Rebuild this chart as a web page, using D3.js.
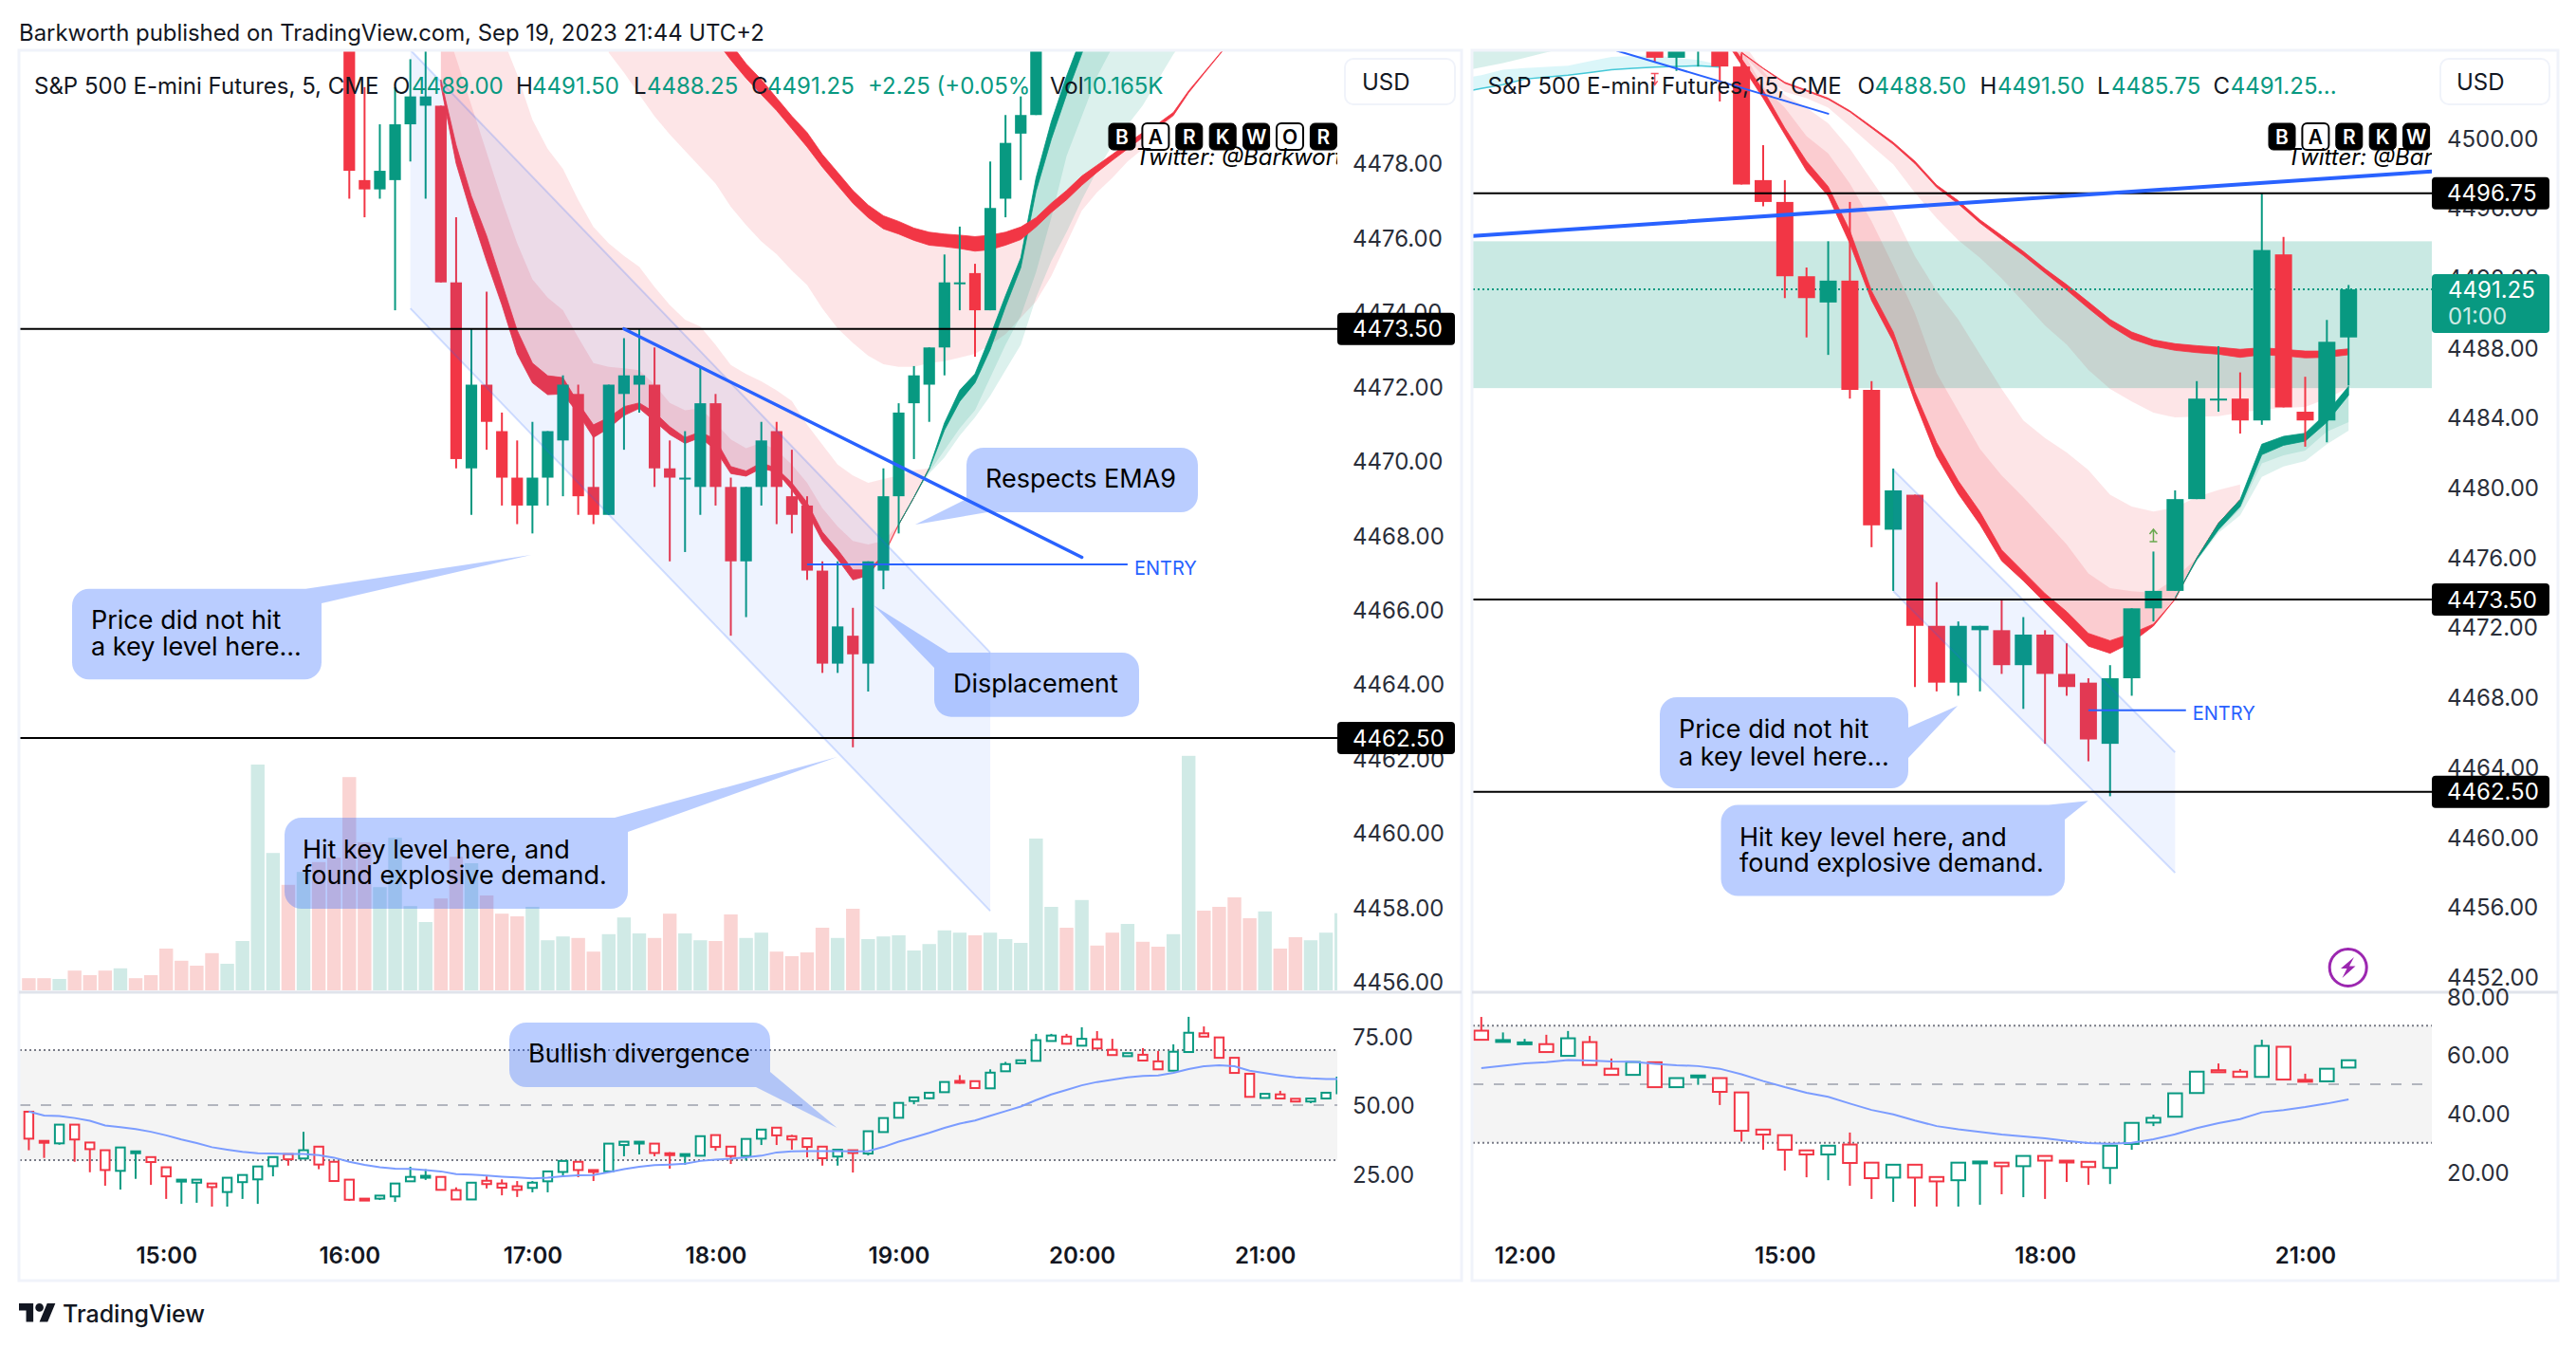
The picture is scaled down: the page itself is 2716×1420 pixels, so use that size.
<!DOCTYPE html>
<html>
<head>
<meta charset="utf-8">
<title>S&amp;P 500 E-mini Futures</title>
<script src="https://d3js.org/d3.v7.min.js"></script>
<style>
  html, body { margin: 0; padding: 0; background: #fff; }
  svg { display: block; }
  text { font-family: Inter, "Noto Sans", sans-serif; }
</style>
</head>
<body>
<script>
// ---- 5 minute chart data ----
var candleStart5 = 21
var candles5 = [
  [4482.5,4483,4477,4477.75],[4477.5,4480,4476.5,4477.25],[4477.25,4479,4477,4477.75],[4477.5,4480,4474,4479],
  [4479,4480.75,4478,4479.75],[4479.5,4481.5,4477,4479.75],[4479.5,4479.5,4474.75,4474.75],[4474.75,4476.5,4469.75,4470],
  [4469.75,4473.5,4468.5,4472],[4472,4474.5,4470.25,4471],[4470.75,4471.25,4468.75,4469.5],[4469.5,4470.5,4468.25,4468.75],
  [4468.75,4471,4468,4469.5],[4469.5,4470.75,4468.75,4470.75],[4470.5,4472.25,4469,4472],[4471.75,4472,4468.5,4469],
  [4469.25,4470.75,4468.25,4468.5],[4468.5,4472,4468.5,4472],[4471.75,4473.25,4470.25,4472.25],[4472,4473.5,4471.25,4472.25],
  [4472,4473,4469.25,4469.75],[4469.75,4470.5,4467.25,4469.5],[4469.5,4470.75,4467.5,4469.5],[4469.25,4472.5,4468.5,4471.5],
  [4471.5,4471.75,4468.75,4469.25],[4469.25,4469.5,4465.25,4467.25],[4467.25,4469.25,4465.75,4469.25],[4469.25,4471,4468.75,4470.5],
  [4470.75,4471,4468.25,4469.25],[4469,4470.25,4468,4468.5],[4468.75,4469,4466.75,4467],[4467,4467.25,4464.25,4464.5],
  [4464.5,4467.25,4464.25,4465.5],[4465.25,4466,4462.25,4464.75],[4464.5,4467.25,4463.75,4467.25],[4467,4469.75,4466.5,4469],
  [4469,4471.5,4468,4471.25],[4471.5,4472.5,4470,4472.25],[4472,4473,4471,4473],[4473,4475.5,4472.25,4474.75],
  [4474.75,4476.25,4474,4474.75],[4475,4475.25,4472.75,4474],[4474,4478,4474,4476.75],[4477,4479.25,4476.5,4478.5],
  [4478.75,4479.75,4477.5,4479.25],[4479.25,4483,4479.25,4482.5]
]
var volume5 = [1.6,1.6,1.5,2.6,2,2.6,2.9,1.6,2,5.5,3.9,3.25,4.9,3.5,6.5,29.75,18.1,13.9,15.6,16.9,17.5,28.1,19.5,13.6,20.1,11.1,9,12.1,17.6,16.75,12.5,10.1,9.75,11,6.6,7.1,6.9,5.1,7.4,9.6,7.5,6.9,10.1,7.5,6.6,6.5,10,6.9,7.6,5.1,4.5,5,8.25,6.9,10.75,6.75,7.1,7.25,5.25,6.1,7.9,7.6,7.25,7.6,6.75,6.25,20,11,8.25,11.9,5.9,7.6,8.75,6.4,5.75,7.4,30.9,10.5,11,12.25,9.5,10.4,5.5,7,6.6,7.6,10.165]
var volumeUp5 = [0,0,1,0,0,0,1,0,0,0,0,0,0,1,1,1,1,0,1,0,0,0,0,1,1,1,1,0,0,1,0,0,0,1,1,1,0,0,1,1,1,0,0,1,1,0,0,1,1,0,0,0,0,1,0,1,1,1,1,1,1,1,0,1,1,1,1,1,0,1,0,0,1,0,0,1,1,0,0,0,0,1,0,0,1,1,1]
var rsi5 = [
  [47.6,47.6,33.6,37.8],[37,37,30.8,36.8],[36.1,42.9,35.6,42.9],[42.9,42.9,29.4,37.5],[36.4,36.4,25.6,34],[33.6,33.6,20.7,26.4],
  [26.1,34.6,19.3,34.6],[32.9,33.2,23.2,33.2],[31.1,31.1,21,29.3],[27.4,27.4,15.9,24.1],[22.2,22.9,14.1,22.9],[21.8,22.9,14.5,22.9],
  [21.5,21.5,13.1,20.2],[18.4,23.6,13.1,23.6],[22,24.6,15.9,24.6],[23,27.7,14.1,27.7],[27.8,31.1,24.1,31.1],[32.2,32.2,28,30.3],
  [30.6,40.3,30.6,33.6],[34.9,34.9,26.7,28.4],[29.4,29.4,22.4,22.4],[22.9,22.9,15.2,15.6],[16,16,15.3,15.3],[16,17.1,15.5,17.1],
  [16.8,21.5,14.8,21.5],[22.3,27.6,22.3,23.9],[23.6,26.7,22.8,24.3],[23.9,23.9,19.2,19.2],[19.1,20.1,15.7,15.7],[15.7,21.8,15.7,21.8],
  [22.5,24.1,19.7,21.3],[21.5,23,17.2,20],[20.5,22.4,16.6,19.2],[19.9,22.4,18.3,21.8],[22.3,25.9,18.3,25.9],[25.7,30,23.9,29.7],
  [29.4,29.4,23.8,26.4],[26.4,26.4,22.4,25.7],[25.9,36,25.9,36],[35.5,36.7,31.4,36.7],[36.1,36.7,32.1,36.7],[36,36,31.4,32.6],
  [32.5,32.9,26.9,32],[31.8,32.2,28.3,32.2],[31.6,38.7,31.6,38.7],[39.1,39.1,33.4,34.8],[34.9,34.9,28.6,31.5],[31.5,37.7,29.9,37.7],
  [37.8,41.1,35.5,41.1],[41.8,41.8,35.5,39],[38.7,39.2,33.8,37.5],[37.9,37.9,31,34.8],[34.9,34.9,28,30.7],[31.3,33.8,28,33.8],
  [33.6,33.6,25.5,32.6],[32.4,40.5,31.7,40.5],[40.2,45.3,40.2,45.3],[45.4,50.8,45.4,50.8],[51.5,52.8,50.3,52.8],[52.5,54.5,52.2,54.5],
  [54.7,58.4,54.7,58.4],[58.8,60.9,57.8,58.3],[58.7,58.7,56.2,56.2],[56.1,63,56.1,61.8],[62.3,65.7,62.3,64.9],[65.2,66.3,65.2,66.3],
  [66.1,75.9,66.1,73.6],[73.3,75.9,73.3,75.3],[74.9,75.9,72.3,72.3],[71.6,78.3,71.6,74.1],[73.9,76.9,70.6,70.6],[70.1,74.1,68.2,68.2],
  [67.8,68.9,67.8,68.9],[68.3,70.7,66.2,66.2],[65.9,69.7,63,63],[62.5,72.1,62.5,69.4],[69.3,82.1,69.3,76.3],[76.1,78.6,74.9,74.9],
  [74.6,74.6,67.2,67.2],[67.2,67.2,61.7,61.7],[61.4,61.4,53,53],[52.6,54.1,52.6,54.1],[53.9,55.2,52.4,52.4],[52.3,52.3,51.3,51.3],
  [51.3,52.4,50.7,52.4],[52.4,54.5,52.4,54.5],[54.3,60,54.3,60]
]
var rsiMa5 = [47.7,46.2,46,45.3,44.3,42.6,42,41.3,40.3,39,37.5,36.2,34.7,33.8,33,32.5,32.4,32.2,32.2,31.8,30.9,29.4,28.3,27.4,26.9,26.8,26.4,25.9,24.9,24.7,24.4,24,23.7,23.4,23.6,24.1,24.5,24.6,25.6,26.7,27.6,28.2,28.4,28.7,29.7,30.2,30.5,31,31.6,32.8,33.2,33.3,33.3,33.3,33.2,33.3,34.8,36.7,38.3,39.9,41.7,43.3,44.4,46.1,47.8,49.5,51.8,53.9,55.5,57.2,58.4,59.2,60.1,60.6,60.8,61.7,63.1,64.1,64.5,64.1,62.5,61.6,60.8,60.1,59.7,59.5,59.5]

// fast ribbon, from bar 27
var fastStart5 = 27
var fastLow5 = [4480.05,4477.95,4476.58,4475.32,4474.14,4472.83,4472.05,4471.73,4471.75,4471.22,4470.58,4470.83,4471.17,4471.36,4471.02,4470.66,4470.42,4470.58,4470.24,4469.61,4469.54,4469.75,4469.65,4469.17,4468.58,4467.8,4467.31,4466.75,4466.87,4467.41,4468.24,4468.97,4469.75]
var fastHigh5 = [4480.2,4478.44,4477.07,4476,4474.73,4473.46,4472.58,4472.24,4472.19,4471.51,4470.92,4471.12,4471.41,4471.51,4471.26,4470.87,4470.58,4470.73,4470.53,4469.8,4469.68,4469.9,4469.75,4469.36,4468.83,4468.04,4467.56,4467.02,4467.02,4467.41,4468.24,4468.97,4469.75]
var fastMid5 = [4482,4480.78,4479.51,4478.24,4476.97,4475.8,4474.83,4474.34,4474,4473.27,4472.58,4472.48,4472.44,4472.39,4472,4471.51,4471.31,4471.36,4470.97,4470.53,4470.29,4470.44,4470.24,4469.85,4469.36,4468.68,4468.19,4467.8,4467.7,4467.8,4468.24,4468.97,4469.75]
var fastOuter5 = [4486,4485,4484,4483,4481.37,4480.34,4479.12,4478.34,4477.8,4476.97,4476.24,4475.8,4475.46,4475.17,4474.63,4474.14,4473.75,4473.56,4473.07,4472.53,4472.29,4472.09,4471.85,4471.56,4470.92,4470.39,4469.85,4469.56,4469.36,4469.46,4469.56,4469.7,4469.75]
// the same ribbon after it flips up, from bar 57
var tealStart5 = 57
var tealHigh5 = [4468.24,4468.97,4469.75,4470.97,4471.85,4472.29,4473.31,4474.39,4475.41,4477.56,4479.07,4480.29,4481.37,4482.5,4483.5,4484.5,4485.5,4486.5,4487.5,4488.5]
var tealLow5 = [4468.24,4468.97,4469.73,4470.78,4471.55,4472.05,4472.95,4474.1,4475.15,4477.2,4478.6,4479.8,4480.9,4482,4483,4484,4485,4486,4487,4488]
var tealMid5 = [4468.24,4468.97,4469.65,4470.24,4470.83,4471.31,4472.19,4473.07,4473.85,4475.02,4476.49,4478.15,4479.22,4480.29,4481.07,4482,4483,4484,4485,4486]
var tealOuter5 = [4468.24,4468.97,4469.61,4470.04,4470.63,4471.12,4471.7,4472.39,4473.07,4474.34,4475.32,4476.1,4476.97,4477.76,4478.44,4478.98,4479.51,4480.2,4480.88,4481.46]
// slow ribbon, from bar 38
var slowStart5 = 38
var slowTop5 = [4485.8,4485.2,4484.6,4484,4483.4,4482.8,4482.2,4481.66,4481.17,4480.63,4480.2,4479.71,4479.22,4478.78,4478.19,4477.71,4477.22,4476.83,4476.54,4476.39,4476.21,4476.1,4476.05,4476.02,4475.98,4476.02,4476.1,4476.24,4476.49,4476.88,4477.22,4477.61,4477.9,4478.19,4478.49,4478.78,4479.02,4479.32,4479.9,4480.39,4480.88,4481.37]
var slowLow5 = [4485.4,4484.8,4484.2,4483.6,4483,4482.4,4481.8,4481.27,4480.73,4480.24,4479.8,4479.37,4478.88,4478.39,4477.85,4477.36,4476.88,4476.49,4476.19,4476.05,4475.88,4475.75,4475.71,4475.66,4475.59,4475.63,4475.75,4475.9,4476.24,4476.63,4476.97,4477.36,4477.71,4478.03,4478.34,4478.65,4478.93,4479.24,4479.85,4480.36,4480.86,4481.35]
var slowOuter5 = [4480.93,4480.39,4479.8,4479.22,4478.73,4478.29,4477.85,4477.41,4476.78,4476.29,4475.85,4475.51,4475.07,4474.68,4474.05,4473.51,4473.12,4472.78,4472.55,4472.48,4472.48,4472.58,4472.63,4472.73,4472.83,4473.07,4473.36,4473.8,4474.24,4474.92,4475.8,4476.68,4477.17,4477.56,4478,4478.34,4478.78,4479.22,4479.85,4480.36,4480.86,4481.35]

// ---- 15 minute chart data ----
var candleStart15 = 8
var candles15 = [
  [4505.5,4506,4504.25,4504.5],[4504.5,4506,4503.75,4505.5],[4505.25,4505.75,4504,4505.5],[4505.5,4506,4502,4504],
  [4504,4504.75,4497.25,4497.25],[4497.5,4499.5,4496,4496.25],[4496.25,4497.5,4490.75,4492],[4492,4492.5,4488.5,4490.75],
  [4490.5,4494,4487.5,4491.75],[4491.75,4496.25,4485,4485.5],[4485.5,4486,4476.5,4477.75],[4477.5,4481,4474,4479.75],
  [4479.5,4479.5,4468.5,4472],[4472,4474.5,4468.25,4468.75],[4468.75,4472.25,4468,4472],[4471.75,4472,4468.25,4472],
  [4471.75,4473.5,4469.25,4469.75],[4469.75,4472.5,4467.25,4471.5],[4471.5,4471.75,4465.25,4469.25],[4469.25,4471,4468,4468.5],
  [4468.75,4469,4464.25,4465.5],[4465.25,4469.75,4462.25,4469],[4469,4473,4468,4473],[4473,4476.25,4472.25,4474],
  [4474,4479.75,4474,4479.25],[4479.25,4486,4479.25,4485],[4485,4488,4484.25,4485],[4485,4486.5,4483,4483.75],
  [4483.75,4496.75,4483.5,4493.5],[4493.25,4494.25,4484.5,4484.5],[4484.25,4486.25,4482.25,4483.75],[4483.75,4489.5,4482.5,4488.25],
  [4488.5,4491.5,4485.75,4491.25]
]
var rsi15 = [
  [68.3,73,65.2,65.2],[64.5,67.7,64.5,65.1],[63.9,65.5,63.9,64.3],[63.7,66.9,61,61],[59.7,68.2,59.7,65.7],[64.4,66.5,56.6,56.6],
  [55.3,58.8,53.2,53.2],[53.2,57.6,53.2,57.6],[57.5,57.5,49,49],[49,52.1,49,52.1],[52.5,53,49.8,53],[52.1,52.1,42.9,47.4],
  [47.2,47.2,30.4,34.1],[34.5,34.5,27.6,32.8],[32.6,32.6,20.5,27.6],[27.4,27.4,18.2,26],[26,29,17.2,29],[29.4,33.5,15.3,23.1],
  [23.2,23.2,10.8,17.9],[18.1,22.5,9.8,22.5],[22.5,22.5,8.2,18.1],[18.3,18.3,8.2,16.8],[17.2,23.2,8.2,23.2],[23,23.6,8.8,23.6],
  [23.2,23.2,12.4,22],[22,25.5,11.4,25.5],[25.5,25.5,10.8,23.9],[23.9,23.9,16.6,23.6],[23.5,23.5,15.6,21.7],[21.4,29,15.9,29],
  [29.6,36.8,27.6,36.8],[36.9,39.6,35.7,38.5],[38.9,46.9,38.9,46.9],[47,54.3,47,54.3],[54.8,57.1,54.1,54.1],[54.3,55.2,52.5,52.5],
  [52.5,65.2,52.5,63.1],[62.8,62.8,51.6,51.6],[51.5,53.6,50.9,50.9],[51,55.3,51,55.3],[55.7,58.2,55.7,58.2]
]
var rsiMa15 = [55.5,56.3,57.1,57.5,58.3,58.1,57.8,57.7,57,56.5,56.2,55.3,53.4,51.1,49,47.1,45.7,43.4,41.2,39.7,37.6,35.7,34.6,33.7,32.8,32.2,31.5,30.6,29.9,29.7,30,31.2,32.9,35,36.7,38.1,40.4,41.2,42.2,43.4,44.8]

var fastStart15 = 11
var fastLow15 = [4506,4504.09,4502.19,4500.11,4498.03,4496.59,4493.87,4490.62,4488.27,4484.83,4481.7,4479.56,4477.8,4475.72,4474.58,4473.33,4472.09,4470.84,4470.43,4471.05,4471.99,4473.52,4475.88,4477.87,4479.22]
var fastHigh15 = [4506.2,4504.45,4502.65,4500.48,4498.58,4497.13,4494.6,4491.16,4488.81,4485.37,4482.48,4480.29,4478.52,4476.34,4475.1,4473.85,4472.81,4471.57,4471.15,4471.57,4472.1,4473.52,4475.88,4477.87,4479.22]
var fastMid15 = [4506.3,4505,4502.83,4501.65,4500.02,4499.03,4497.31,4495.14,4492.61,4489.9,4486.46,4484.29,4482.12,4480.6,4479.36,4478.01,4476.66,4475,4474.16,4473.98,4473.89,4474.7,4475.88,4477.87,4479.22]
var fastOuter15 = [4506.4,4505.5,4503.73,4502.37,4501.65,4500.75,4499.3,4497.49,4495.68,4493.15,4491.16,4489.53,4487.54,4485.55,4483.75,4482.75,4481.92,4480.91,4479.5,4478.82,4478.54,4478.77,4479.37,4479.77,4480.09]
var tealStart15 = 32
var tealHigh15 = [4473.6,4475.88,4477.87,4479.22,4482.39,4482.84,4483.02,4484.2,4485.7]
var tealLow15 = [4473.6,4475.79,4477.5,4478.82,4481.79,4482.33,4482.57,4483.65,4485.19]
var tealMid15 = [4473.6,4475.75,4477.41,4478.68,4481.3,4481.75,4482.03,4483.11,4483.65]
var tealOuter15 = [4473.6,4475.7,4477.32,4478.32,4480.52,4481.12,4481.43,4482.39,4483.17]
var slowStart15 = 12
var slowTop15 = [4504.82,4503.91,4503.1,4502.65,4502.19,4501.47,4500.57,4499.66,4498.58,4497.22,4496.32,4495.23,4494.33,4493.42,4492.43,4491.52,4490.53,4489.53,4488.81,4488.36,4488.14,4488.03,4487.94,4487.82,4487.91,4487.82,4487.72,4487.72,4487.85]
var slowLow15 = [4504.78,4503.88,4503.04,4502.59,4502.12,4501.4,4500.48,4499.55,4498.45,4497.09,4496.14,4495.05,4494.11,4493.19,4492.19,4491.21,4490.17,4489.17,4488.41,4488,4487.76,4487.63,4487.54,4487.36,4487.51,4487.45,4487.33,4487.36,4487.51]
var slowOuter15 = [4504.78,4503.46,4502.56,4502.19,4501.65,4500.57,4499.48,4498.4,4496.77,4495.32,4494.06,4493.06,4491.88,4490.53,4489.17,4488.09,4486.64,4485.55,4484.83,4484.2,4483.92,4483.96,4484,4484.2,4484.38,4484.47,4484.52,4485,4485.64]
// older ema bands at the top left, from bar -1
var cyanStart15 = -1
var cyanTop15 = [4503.3,4503.5,4503.82,4503.91,4503.98,4504.04,4504.3,4504.55,4504.6,4504.64,4504.5,4504.37,4504.1]
var cyanLow15 = [4502.5,4502.75,4502.96,4503.28,4503.4,4503.5,4503.65,4503.82,4503.9,4503.97,4504,4504.04,4503.97]
var oldTealTop15 = [4506,4506,4506,4506,4506,4506]
var oldTealLow15 = [4503.7,4503.95,4504.2,4504.5,4504.8,4505.1]

// ---- axes ----
var priceTicks5 = [4456,4458,4460,4462,4464,4466,4468,4470,4472,4474,4476,4478]
var priceTicks15 = [4452,4456,4460,4464,4468,4472,4476,4480,4484,4488,4492,4496,4500]
var rsiTicks5 = [25,50,75]
var rsiTicks15 = [20,40,60,80]
var timeBars5 = [9,21,33,45,57,69,81]
var timeLabels5 = ['15:00','16:00','17:00','18:00','19:00','20:00','21:00']
var timeBars15 = [2,14,26,38]
var timeLabels15 = ['12:00','15:00','18:00','21:00']

var levels5 = [4473.5,4462.5]
var levels15 = [4496.75,4473.5,4462.5]

var watermark5 = ['B','A','R','K','W','O','R']
var watermark15 = ['B','A','R','K','W']

var UP = '#089981', DOWN = '#f23645', BLUE = '#2962ff', INK = '#131722', AXIS = '#2a2e39'
var CALLOUT = 'rgba(41,98,255,0.32)'

var svg = d3.select('body').append('svg').attr('width', 2716).attr('height', 1420)
var defs = svg.append('defs')

function clip(id, x0, y0, x1, y1) {
  defs.append('clipPath').attr('id', id).append('rect')
    .attr('x', x0).attr('y', y0).attr('width', x1 - x0).attr('height', y1 - y0)
}

function band(g, x, y, start, upper, lower, fill) {
  var n = Math.min(upper.length, lower.length)
  var area = d3.area()
    .x(function (d) { return x(start + d) })
    .y0(function (d) { return y(lower[d]) })
    .y1(function (d) { return y(upper[d]) })
  return g.append('path').attr('d', area(d3.range(n))).attr('fill', fill)
}

function solid(g, x, y, start, upper, lower, color) {
  band(g, x, y, start, upper, lower, color).attr('stroke', color).attr('stroke-width', 0.8)
}

function candles(g, data, start, x, y, w, hollow) {
  data.forEach(function (c, i) {
    var up = c[3] >= c[0]
    var color = up ? UP : DOWN
    var cx = x(start + i)
    var top = y(Math.max(c[0], c[3]))
    var h = Math.max(Math.abs(y(c[0]) - y(c[3])), 2)
    g.append('line').attr('x1', cx).attr('x2', cx).attr('y1', y(c[1])).attr('y2', y(c[2]))
      .attr('stroke', color).attr('stroke-width', 2)
    if (hollow) {
      g.append('rect').attr('x', cx - w / 2 + 1).attr('y', top).attr('width', w - 2).attr('height', h)
        .attr('fill', '#fff').attr('stroke', color).attr('stroke-width', 2)
    } else {
      g.append('rect').attr('x', cx - w / 2).attr('y', top).attr('width', w).attr('height', h).attr('fill', color)
    }
  })
}

function channel(g, x, y, b0, b1, t0, t1, l0, l1) {
  var pts = [[x(b0), y(t0)], [x(b1), y(t1)], [x(b1), y(l1)], [x(b0), y(l0)]]
  g.append('path').attr('d', d3.line()(pts) + 'Z').attr('fill', 'rgba(41,98,255,0.08)')
  g.append('path').attr('d', d3.line()([pts[0], pts[1]])).attr('stroke', 'rgba(41,98,255,0.2)').attr('stroke-width', 2).attr('fill', 'none')
  g.append('path').attr('d', d3.line()([pts[3], pts[2]])).attr('stroke', 'rgba(41,98,255,0.2)').attr('stroke-width', 2).attr('fill', 'none')
}

function trend(g, x, y, b0, p0, b1, p1, w) {
  g.append('line').attr('x1', x(b0)).attr('y1', y(p0)).attr('x2', x(b1)).attr('y2', y(p1))
    .attr('stroke', BLUE).attr('stroke-width', w).attr('stroke-linecap', 'round')
}

// rounded box with a tail, corner = the corner the tail replaces
function callout(box, corner, a, tip, b, lines, tx, ty) {
  var r = 18, x0 = box[0], y0 = box[1], x1 = box[2], y1 = box[3]
  var p = d3.path()
  p.moveTo(x0 + r, y0)
  if (corner === 'tl') { p.moveTo(a[0], a[1]) }
  if (corner === 'tr') { p.lineTo(a[0], a[1]); p.lineTo(tip[0], tip[1]); p.lineTo(b[0], b[1]) }
  else { p.lineTo(x1 - r, y0); p.arcTo(x1, y0, x1, y0 + r, r) }
  if (corner === 'right') { p.lineTo(a[0], a[1]); p.lineTo(tip[0], tip[1]); p.lineTo(b[0], b[1]) }
  if (corner === 'br') { p.lineTo(a[0], a[1]); p.lineTo(tip[0], tip[1]); p.lineTo(b[0], b[1]) }
  else { p.lineTo(x1, y1 - r); p.arcTo(x1, y1, x1 - r, y1, r) }
  if (corner === 'bl') { p.lineTo(a[0], a[1]); p.lineTo(tip[0], tip[1]); p.lineTo(b[0], b[1]) }
  else { p.lineTo(x0 + r, y1); p.arcTo(x0, y1, x0, y1 - r, r) }
  if (corner === 'tl') { p.lineTo(b[0], b[1]); p.lineTo(tip[0], tip[1]); p.closePath() }
  else { p.lineTo(x0, y0 + r); p.arcTo(x0, y0, x0 + r, y0, r); p.closePath() }
  svg.append('path').attr('d', p.toString()).attr('fill', CALLOUT)
  lines.forEach(function (t, i) {
    svg.append('text').attr('x', tx).attr('y', ty[i]).attr('dy', '0.36em')
      .attr('font-size', 27).attr('fill', '#000').text(t)
  })
}

function label(x, y, txt, fill, opts) {
  opts = opts || {}
  return svg.append('text').attr('x', x).attr('y', y).attr('dy', '0.36em')
    .attr('font-size', opts.size || 24).attr('font-weight', opts.weight || 400)
    .attr('font-style', opts.style || 'normal').attr('fill', fill).text(txt)
}

function priceTag(x0, x1, cy, txt) {
  svg.append('rect').attr('x', x0).attr('y', cy - 17).attr('width', x1 - x0).attr('height', 34)
    .attr('rx', 4).attr('fill', '#000')
  label(x0 + 16, cy, txt, '#fff')
}

function usd(x0, x1, tx) {
  svg.append('rect').attr('x', x0).attr('y', 62).attr('width', x1 - x0).attr('height', 48).attr('rx', 9)
    .attr('fill', '#fff').attr('stroke', '#f0f3fa').attr('stroke-width', 2)
  label(tx, 86, 'USD', INK)
}

function watermark(g, letters, xs, twitterX) {
  letters.forEach(function (l, i) {
    var hollow = l === 'A' || l === 'O'
    g.append('rect').attr('x', xs + i * 35.4).attr('y', 130).attr('width', 28).attr('height', 28).attr('rx', 5)
      .attr('fill', hollow ? '#fff' : '#000').attr('stroke', '#000').attr('stroke-width', hollow ? 2 : 1)
    g.append('text').attr('x', xs + i * 35.4 + 14).attr('y', 144).attr('dy', '0.36em').attr('text-anchor', 'middle')
      .attr('font-size', 21).attr('font-weight', 600).attr('fill', hollow ? '#000' : '#fff').text(l)
  })
  g.append('text').attr('x', twitterX).attr('y', 165).attr('dy', '0.36em').attr('font-size', 24)
    .attr('font-style', 'italic').attr('fill', '#000').text('Twitter: @Barkworth')
}

function panel(x0, x1) {
  svg.append('rect').attr('x', x0).attr('y', 53).attr('width', x1 - x0).attr('height', 1297)
    .attr('fill', 'none').attr('stroke', '#f0f3fa').attr('stroke-width', 3)
  svg.append('line').attr('x1', x0).attr('x2', x1).attr('y1', 1046).attr('y2', 1046)
    .attr('stroke', '#e0e3eb').attr('stroke-width', 3)
}

function rsiPane(g, x, y, x0, x1) {
  g.append('rect').attr('x', x0).attr('width', x1 - x0).attr('y', y(70)).attr('height', y(30) - y(70)).attr('fill', '#f4f4f4')
  ;[70, 30].forEach(function (v) {
    g.append('line').attr('x1', x0).attr('x2', x1).attr('y1', y(v)).attr('y2', y(v))
      .attr('stroke', '#787b86').attr('stroke-width', 2).attr('stroke-dasharray', '2,3')
  })
  g.append('line').attr('x1', x0).attr('x2', x1).attr('y1', y(50)).attr('y2', y(50))
    .attr('stroke', '#b2b5be').attr('stroke-width', 2).attr('stroke-dasharray', '11,11')
}

function axisY(scale, ticks, fmt, x, shift) {
  var g = svg.append('g').attr('transform', 'translate(' + x + ',' + shift + ')')
    .call(d3.axisRight(scale).tickValues(ticks).tickSize(0).tickPadding(16).tickFormat(fmt))
  g.select('.domain').remove()
  g.selectAll('text').attr('font-size', 24).attr('fill', AXIS).style('font-family', 'Inter')
}

function axisX(scale, bars, labels) {
  var g = svg.append('g').attr('transform', 'translate(0,1313)')
    .call(d3.axisBottom(scale).tickValues(bars).tickSize(0).tickPadding(0)
      .tickFormat(function (d, i) { return labels[i] }))
  g.select('.domain').remove()
  g.selectAll('text').attr('font-size', 24).attr('font-weight', 600).attr('fill', INK)
    .attr('dy', '0.8em').style('font-family', 'Inter')
}

// header
label(20, 34, 'Barkworth published on TradingView.com, Sep 19, 2023 21:44 UTC+2', INK, { size: 23.9 })

// ================ left chart, 5 minutes ================
var x5 = d3.scaleLinear().domain([0, 86]).range([30.4, 30.4 + 16.09 * 86])
var y5 = d3.scaleLinear().domain([4473.5, 4462.5]).range([346.7, 778])
var vol5 = d3.scaleLinear().domain([0, 30.9]).range([1044, 796.8])
var r5 = d3.scaleLinear().domain([70, 50]).range([1107, 1165])

clip('clip5', 21, 54, 1410, 1045)
clip('clipRsi5', 21, 1047, 1410, 1349)
var L = svg.append('g').attr('clip-path', 'url(#clip5)')

volume5.forEach(function (v, i) {
  L.append('rect').attr('x', x5(i) - 7.2).attr('width', 14.4).attr('y', vol5(v)).attr('height', vol5(0) - vol5(v))
    .attr('fill', volumeUp5[i] ? '#d0eae6' : '#fad4d3')
})

band(L, x5, y5, slowStart5, slowTop5, slowOuter5, 'rgba(242,54,69,0.13)')
band(L, x5, y5, fastStart5, fastOuter5, fastLow5, 'rgba(242,54,69,0.13)')
band(L, x5, y5, fastStart5, fastMid5, fastLow5, 'rgba(242,54,69,0.14)')
solid(L, x5, y5, fastStart5, fastHigh5, fastLow5, DOWN)
band(L, x5, y5, tealStart5, tealHigh5, tealOuter5, 'rgba(8,153,129,0.14)')
band(L, x5, y5, tealStart5, tealHigh5, tealMid5, 'rgba(8,153,129,0.14)')
solid(L, x5, y5, tealStart5, tealHigh5, tealLow5, UP)
solid(L, x5, y5, slowStart5, slowTop5, slowLow5, DOWN)

candles(L, candles5, candleStart5, x5, y5, 12.2, false)
channel(L, x5, y5, 25, 63, 4481, 4464.8, 4474.05, 4457.85)

levels5.forEach(function (v) {
  L.append('line').attr('x1', 21).attr('x2', 1410).attr('y1', y5(v)).attr('y2', y5(v))
    .attr('stroke', '#000').attr('stroke-width', 2)
})
trend(L, x5, y5, 39, 4473.5, 69, 4467.36, 3.5)
L.append('line').attr('x1', x5(51)).attr('x2', x5(72)).attr('y1', y5(4467.17)).attr('y2', y5(4467.17))
  .attr('stroke', BLUE).attr('stroke-width', 2)
L.append('text').attr('x', x5(72) + 7).attr('y', y5(4467.17) + 4).attr('dy', '0.36em')
  .attr('font-size', 20).attr('fill', BLUE).text('ENTRY')
watermark(L, watermark5, 1169, 1197)

var Lr = svg.append('g').attr('clip-path', 'url(#clipRsi5)')
rsiPane(Lr, x5, r5, 21, 1410)
candles(Lr, rsi5, 0, x5, r5, 11.4, true)
Lr.append('path').attr('fill', 'none').attr('stroke', '#7b9cff').attr('stroke-width', 2)
  .attr('d', d3.line().x(function (d, i) { return x5(i) }).y(function (d) { return r5(d) })(rsiMa5))

panel(20, 1541)
axisY(y5, priceTicks5, d3.format('.2f'), 1410, 3)
axisY(r5, rsiTicks5, d3.format('.2f'), 1410, 1)
axisX(x5, timeBars5, timeLabels5)
levels5.forEach(function (v) { priceTag(1410, 1534, y5(v), d3.format('.2f')(v)) })
usd(1418, 1534, 1436)

label(36, 90, 'S&P 500 E-mini Futures, 5, CME', INK)
;[[414, 'O', INK], [434, '4489.00', UP], [544, 'H', INK], [561, '4491.50', UP], [668, 'L', INK], [682, '4488.25', UP],
  [792, 'C', INK], [809, '4491.25', UP], [915, '+2.25 (+0.05%)', UP], [1107, 'Vol', INK], [1142, '10.165K', UP]]
  .forEach(function (d) { label(d[0], 90, d[1], d[2]) })

callout([76, 620.7, 339, 716.3], 'tr', [322.4, 620.7], [560, 585], [339, 636],
  ['Price did not hit', 'a key level here...'], 96, [653, 681.7])
callout([300, 862, 662, 958], 'tr', [648, 862], [882.6, 798], [662, 877],
  ['Hit key level here, and', 'found explosive demand.'], 319, [895, 922.7])
callout([537, 1078, 812, 1146], 'br', [812, 1130], [882.6, 1189], [797, 1146],
  ['Bullish divergence'], 557, [1110.7])
callout([1019, 472, 1263, 540], 'bl', [1041, 540], [965, 553], [1019, 526],
  ['Respects EMA9'], 1039, [504])
callout([985, 688, 1201, 755.7], 'tl', [1000, 688], [921, 638], [985, 704],
  ['Displacement'], 1005, [720.7])

// ================ right chart, 15 minutes ================
var x15 = d3.scaleLinear().domain([0, 40]).range([1561.8, 1561.8 + 22.86 * 40])
var y15 = d3.scaleLinear().domain([4496.75, 4462.5]).range([203.7, 834.8])
var r15 = d3.scaleLinear().domain([70, 50]).range([1081.3, 1143])

clip('clip15', 1553, 54, 2564, 1045)
clip('clipRsi15', 1553, 1047, 2564, 1349)
var R = svg.append('g').attr('clip-path', 'url(#clip15)')

band(R, x15, y15, cyanStart15, oldTealTop15, oldTealLow15, 'rgba(8,153,129,0.16)')
band(R, x15, y15, cyanStart15, cyanTop15, cyanLow15, 'rgba(0,188,212,0.14)')
R.append('path').attr('fill', 'none').attr('stroke', '#45c8d8').attr('stroke-width', 1.5)
  .attr('d', d3.line().x(function (d, i) { return x15(cyanStart15 + i) }).y(function (d) { return y15(d) })(cyanLow15))

band(R, x15, y15, slowStart15, slowTop15, slowOuter15, 'rgba(242,54,69,0.13)')
band(R, x15, y15, fastStart15, fastOuter15, fastLow15, 'rgba(242,54,69,0.13)')
band(R, x15, y15, fastStart15, fastMid15, fastLow15, 'rgba(242,54,69,0.14)')
band(R, x15, y15, tealStart15, tealHigh15, tealOuter15, 'rgba(8,153,129,0.14)')
band(R, x15, y15, tealStart15, tealHigh15, tealMid15, 'rgba(8,153,129,0.14)')

// position box, under the ema lines
R.append('rect').attr('x', 1553).attr('width', 1011).attr('y', y15(4494)).attr('height', y15(4485.6) - y15(4494))
  .attr('fill', 'rgba(8,153,129,0.22)')
solid(R, x15, y15, fastStart15, fastHigh15, fastLow15, DOWN)
solid(R, x15, y15, tealStart15, tealHigh15, tealLow15, UP)
solid(R, x15, y15, slowStart15, slowTop15, slowLow15, DOWN)
R.append('line').attr('x1', 1553).attr('x2', 2564).attr('y1', y15(4491.25)).attr('y2', y15(4491.25))
  .attr('stroke', UP).attr('stroke-width', 2).attr('stroke-dasharray', '2,3')

candles(R, candles15, candleStart15, x15, y15, 18, false)
channel(R, x15, y15, 19, 32, 4480.93, 4464.77, 4473.98, 4457.87)

levels15.forEach(function (v) {
  R.append('line').attr('x1', 1553).attr('x2', 2564).attr('y1', y15(v)).attr('y2', y15(v))
    .attr('stroke', '#000').attr('stroke-width', 2)
})
trend(R, x15, y15, -0.43, 4494.3, 43.84, 4498, 4)
trend(R, x15, y15, 6.26, 4504.9, 16, 4501.3, 2)
R.append('line').attr('x1', x15(28)).attr('x2', x15(32.5)).attr('y1', y15(4467.17)).attr('y2', y15(4467.17))
  .attr('stroke', BLUE).attr('stroke-width', 2)
R.append('text').attr('x', x15(32.5) + 7).attr('y', y15(4467.17) + 3).attr('dy', '0.36em')
  .attr('font-size', 20).attr('fill', BLUE).text('ENTRY')
watermark(R, watermark15, 2392, 2411)

// small script marks
var arrowX = x15(31), arrowY = y15(4477.14)
R.append('path').attr('fill', 'none').attr('stroke', '#6aa84f').attr('stroke-width', 1.5)
  .attr('d', 'M' + (arrowX - 4) + ',' + (arrowY - 2) + 'L' + arrowX + ',' + (arrowY - 7) + 'L' + (arrowX + 4) + ',' + (arrowY - 2)
    + 'M' + arrowX + ',' + (arrowY - 7) + 'V' + (arrowY + 6) + 'M' + (arrowX - 4) + ',' + (arrowY + 6) + 'H' + (arrowX + 4))
var markX = x15(8), markY = y15(4503.28)
R.append('path').attr('fill', 'none').attr('stroke', '#f7525f').attr('stroke-width', 1.5)
  .attr('d', 'M' + (markX - 4) + ',' + (markY - 6) + 'H' + (markX + 4) + 'M' + markX + ',' + (markY - 6) + 'V' + (markY + 6)
    + 'M' + (markX - 3) + ',' + (markY + 2) + 'L' + markX + ',' + (markY + 6) + 'L' + (markX + 3) + ',' + (markY + 2))

var Rr = svg.append('g').attr('clip-path', 'url(#clipRsi15)')
rsiPane(Rr, x15, r15, 1553, 2564)
candles(Rr, rsi15, 0, x15, r15, 16.5, true)
Rr.append('path').attr('fill', 'none').attr('stroke', '#7b9cff').attr('stroke-width', 2)
  .attr('d', d3.line().x(function (d, i) { return x15(i) }).y(function (d) { return r15(d) })(rsiMa15))

panel(1552, 2697)
axisY(y15, priceTicks15, d3.format('.2f'), 2564, 2.5)
axisY(r15, rsiTicks15, d3.format('.2f'), 2564, 1)
axisX(x15, timeBars15, timeLabels15)
levels15.forEach(function (v) { priceTag(2564, 2688, y15(v), d3.format('.2f')(v)) })
svg.append('rect').attr('x', 2564).attr('y', 289).attr('width', 124).attr('height', 62).attr('rx', 4).attr('fill', UP)
label(2581, 305.7, '4491.25', '#fff')
label(2581, 333, '01:00', '#fff').attr('opacity', 0.8)
usd(2573, 2688, 2590)

label(1568.5, 90, 'S&P 500 E-mini Futures, 15, CME', INK)
;[[1958.6, 'O', INK], [1976.6, '4488.50', UP], [2087.6, 'H', INK], [2106, '4491.50', UP], [2211, 'L', INK], [2226, '4485.75', UP],
  [2333.6, 'C', INK], [2351.7, '4491.25...', UP]]
  .forEach(function (d) { label(d[0], 90, d[1], d[2]) })

callout([1750, 735, 2012, 831], 'right', [2012, 767], [2064, 744], [2012, 799],
  ['Price did not hit', 'a key level here...'], 1770, [768, 797])
callout([1814.5, 848.5, 2177, 944.6], 'tr', [2160, 848.5], [2201.7, 844.3], [2177, 864],
  ['Hit key level here, and', 'found explosive demand.'], 1834, [882, 909.4])

// purple bolt
svg.append('circle').attr('cx', 2475.7).attr('cy', 1020).attr('r', 19.5).attr('fill', '#fff')
  .attr('stroke', '#9c27b0').attr('stroke-width', 3)
svg.append('path').attr('fill', '#9c27b0')
  .attr('d', 'M2482,1009 L2468,1021 L2474.5,1021 L2469.5,1031 L2483.5,1018.5 L2477,1018.5 Z')

// footer logo
svg.append('path').attr('transform', 'translate(20,1366.5) scale(1.08)').attr('fill', INK)
  .attr('fill-rule', 'evenodd')
  .attr('d', 'M14 25H7V14H0V7h14v18zM28 25h-8l7.5-18h8L28 25zM20 7a4 4 0 1 1 0 8a4 4 0 0 1 0-8z')
label(66, 1385, 'TradingView', INK, { size: 25, weight: 500 })
</script>
</body>
</html>
